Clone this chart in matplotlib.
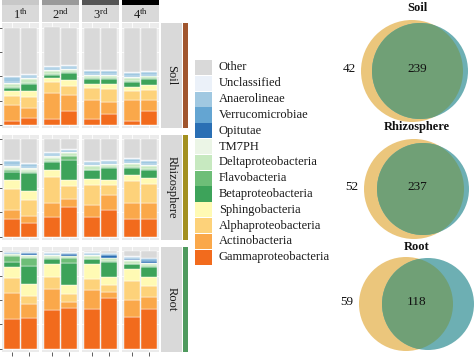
import matplotlib.pyplot as plt
from matplotlib.patches import Rectangle, Circle
import numpy as np

plt.rcParams['font.family'] = ['Liberation Serif', 'DejaVu Serif']
plt.rcParams['mathtext.fontset'] = 'custom'
plt.rcParams['mathtext.rm'] = 'Liberation Serif'

# taxa, bottom of stack first
taxa = ['Gammaproteobacteria', 'Actinobacteria', 'Alphaproteobacteria', 'Sphingobacteria',
        'Betaproteobacteria', 'Flavobacteria', 'Deltaproteobacteria', 'TM7PH',
        'Opitutae', 'Verrucomicrobiae', 'Anaerolineae', 'Unclassified', 'Other']
colors = ['#F26B1D', '#FAA84A', '#FDD27A', '#FFFAB4',
          '#3DA35A', '#6EBE78', '#C7E9C0', '#EBF5E6',
          '#2A6FB4', '#64A5D2', '#A0C8E1', '#EBF1F9', '#D9D9D9']

rows = ['Soil', 'Rhizosphere', 'Root']
cols = ['1', '2', '3', '4']
suffix = ['th', 'nd', 'rd', 'th']
col_colors = ['#C8C8C8', '#9A9A9A', '#555555', '#000000']
row_colors = ['#A0552D', '#A3901F', '#4F9A5E']

# relative abundance, 8 bars per compartment (4 stages x 2 samples)
gamma = [.045, .07, .06, .14, .065, .11, .045, .145,
         .185, .135, .20, .30, .20, .27, .185, .185,
         .30, .31, .395, .42, .41, .525, .33, .41]
actino = [.16, .11, .27, .165, .19, .125, .21, .11,
          .09, .075, .145, .09, .12, .16, .16, .16,
          .275, .15, .22, .055, .19, .06, .165, .12]
alpha = [.095, .11, .11, .10, .13, .135, .10, .11,
         .21, .17, .265, .13, .215, .10, .225, .195,
         .15, .085, .12, .09, .12, .07, .205, .11]
sphingo = [.05, .06, .04, .06, .04, .05, .04, .045,
           .10, .09, .08, .06, .06, .05, .06, .06,
           .11, .12, .13, .09, .145, .08, .115, .095]
beta = [.035, .075, .04, .07, .045, .05, .05, .06,
        .08, .18, .075, .21, .085, .125, .08, .085,
        .06, .18, .06, .225, .055, .155, .05, .10]
flavo = [.01, .01, .01, .015, .01, .01, .01, .01,
         .015, .01, .01, .04, .01, .01, .01, .01,
         .06, .09, .005, .05, .005, .01, .005, .01]
delta = [.03, .04, .025, .02, .025, .03, .03, .02,
         .03, .025, .03, .025, .035, .02, .03, .03,
         .015, .02, .025, .02, .03, .03, .03, .025]
tm7ph = [.01, .01, .01, .01, .01, .01, .01, .01,
         .015, .02, .02, .01, .015, .01, .01, .01,
         .005, .005, .01, .005, .01, .005, .01, .01]
opitutae = [0, 0, 0, 0, 0, 0, 0, 0,
            0, 0, 0, 0, 0, 0, 0, 0,
            0, .02, 0, .02, 0, .03, .015, .025]
verruco = [.01, .01, .01, .01, .01, .01, .01, .01,
           .01, .01, .01, .01, .01, .01, .01, .01,
           .005, .005, .005, .005, .005, .005, .01, .015]
anaero = [.045, .025, .025, .02, .03, .025, .035, .025,
          .04, .03, .025, .02, .02, .02, .025, .03,
          .01, .005, .015, .005, .015, .01, .01, .01]
unclass = [.015, .01, .01, .01, .01, .01, .01, .01,
           .01, .01, .01, .01, .01, .01, .01, .01,
           .005, .005, .005, .005, .005, .005, .005, .005]
other = [.495, .47, .40, .38, .435, .435, .45, .445,
         .215, .245, .13, .095, .22, .215, .195, .215,
         .005, .005, .01, .01, .01, .015, .05, .065]
series = [gamma, actino, alpha, sphingo, beta, flavo, delta, tm7ph,
          opitutae, verruco, anaero, unclass, other]

# venn counts: only-in-first set, shared
venn_titles = ['Soil', 'Rhizosphere', 'Root']
venn_only = [42, 52, 59]
venn_shared = [239, 237, 118]

W, H = 474, 358
fig = plt.figure(figsize=(W / 100, H / 100), dpi=100)


def box(x0, y0, x1, y1):
    # pixel box (top-left origin) -> figure fraction
    return [x0 / W, 1 - y1 / H, (x1 - x0) / W, (y1 - y0) / H]


col_left = [2, 42, 82, 122]
row_top = [23, 134.5, 246.5]
pw, ph = 37, 105

for r, rname in enumerate(rows):
    for c in range(4):
        ax = fig.add_axes(box(col_left[c], row_top[r], col_left[c] + pw, row_top[r] + ph))
        ax.set_facecolor('#EBEBEB')
        i0 = r * 8 + c * 2
        x = np.array([1, 2])
        bottom = np.zeros(2)
        for s, col in zip(series, colors):
            v = np.array(s[i0:i0 + 2])
            ax.bar(x, v, bottom=bottom, width=0.9, color=col, edgecolor='white', lw=0.3, zorder=3)
            bottom += v
        ax.set_xlim(0.45, 2.55)
        ax.set_ylim(-0.03, 1.05)
        ax.set_yticks([0, .25, .5, .75, 1])
        ax.set_xticks([1, 2])
        ax.grid(color='white', lw=0.6, zorder=0)
        ax.set_xticklabels([])
        ax.set_yticklabels([])
        for sp in ax.spines.values():
            sp.set_visible(False)
        ax.tick_params(axis='y', length=2 if c == 0 else 0, color='#444444', width=0.6)
        ax.tick_params(axis='x', length=3 if r == 2 else 0, color='#444444', width=0.6)

# top strips
for c in range(4):
    sa = fig.add_axes(box(col_left[c], 5, col_left[c] + pw, 22))
    sa.set_facecolor('#D9D9D9')
    sa.set_xticks([]); sa.set_yticks([])
    for sp in sa.spines.values():
        sp.set_visible(False)
    sa.text(0.5, 0.45, r'$\mathregular{%s^{%s}}$' % (cols[c], suffix[c]), ha='center', va='center',
            fontsize=9, color='#1A1A1A', transform=sa.transAxes)
    ca = fig.add_axes(box(col_left[c], 0, col_left[c] + pw, 5))
    ca.set_facecolor(col_colors[c])
    ca.set_xticks([]); ca.set_yticks([])
    for sp in ca.spines.values():
        sp.set_visible(False)

# right strips
for r, rname in enumerate(rows):
    sa = fig.add_axes(box(161, row_top[r], 182, row_top[r] + ph))
    sa.set_facecolor('#D9D9D9')
    sa.set_xticks([]); sa.set_yticks([])
    for sp in sa.spines.values():
        sp.set_visible(False)
    sa.text(0.5, 0.5, rname, rotation=-90, ha='center', va='center', fontsize=9,
            color='#1A1A1A', transform=sa.transAxes)
    ca = fig.add_axes(box(183, row_top[r], 187.5, row_top[r] + ph))
    ca.set_facecolor(row_colors[r])
    ca.set_xticks([]); ca.set_yticks([])
    for sp in ca.spines.values():
        sp.set_visible(False)

# overlay in pixel coords for legend + venns
ov = fig.add_axes([0, 0, 1, 1])
ov.set_xlim(0, W)
ov.set_ylim(H, 0)
ov.axis('off')
ov.patch.set_alpha(0)

for k, (name, col) in enumerate(zip(taxa[::-1], colors[::-1])):
    yc = 67.5 + k * 15.8
    ov.add_patch(Rectangle((195, yc - 7.6), 17, 15.2, color=col, lw=0))
    ov.text(219, yc, name, va='center', ha='left', fontsize=9, color='#1A1A1A')

yellow, teal, mix = '#EBC67C', '#6DAFB3', '#70A076'
venn_geo = [((412, 71, 51), (420, 71, 48)),
            ((414, 189, 50), (423, 189, 46)),
            ((406, 304, 47), (428, 304, 46))]
title_y = [8, 127, 247]
for v in range(3):
    (ax_, ay_, ar_), (bx_, by_, br_) = venn_geo[v]
    ca = Circle((ax_, ay_), ar_, color=yellow, lw=0)
    ov.add_patch(ca)
    ov.add_patch(Circle((bx_, by_), br_, color=teal, lw=0))
    inter = Circle((bx_, by_), br_, color=mix, lw=0)
    ov.add_patch(inter)
    inter.set_clip_path(ca)
    ov.text(417, title_y[v], venn_titles[v], ha='center', va='center', fontsize=9,
            fontweight='bold', color='#111111')
    ov.text(ax_ - ar_ - 12, ay_ - 2, str(venn_only[v]), ha='center', va='center',
            fontsize=9.5, color='#111111')
    ov.text(417, ay_ - 2, str(venn_shared[v]), ha='center', va='center',
            fontsize=9.5, color='#111111')

fig.savefig('out.png', dpi=100)
